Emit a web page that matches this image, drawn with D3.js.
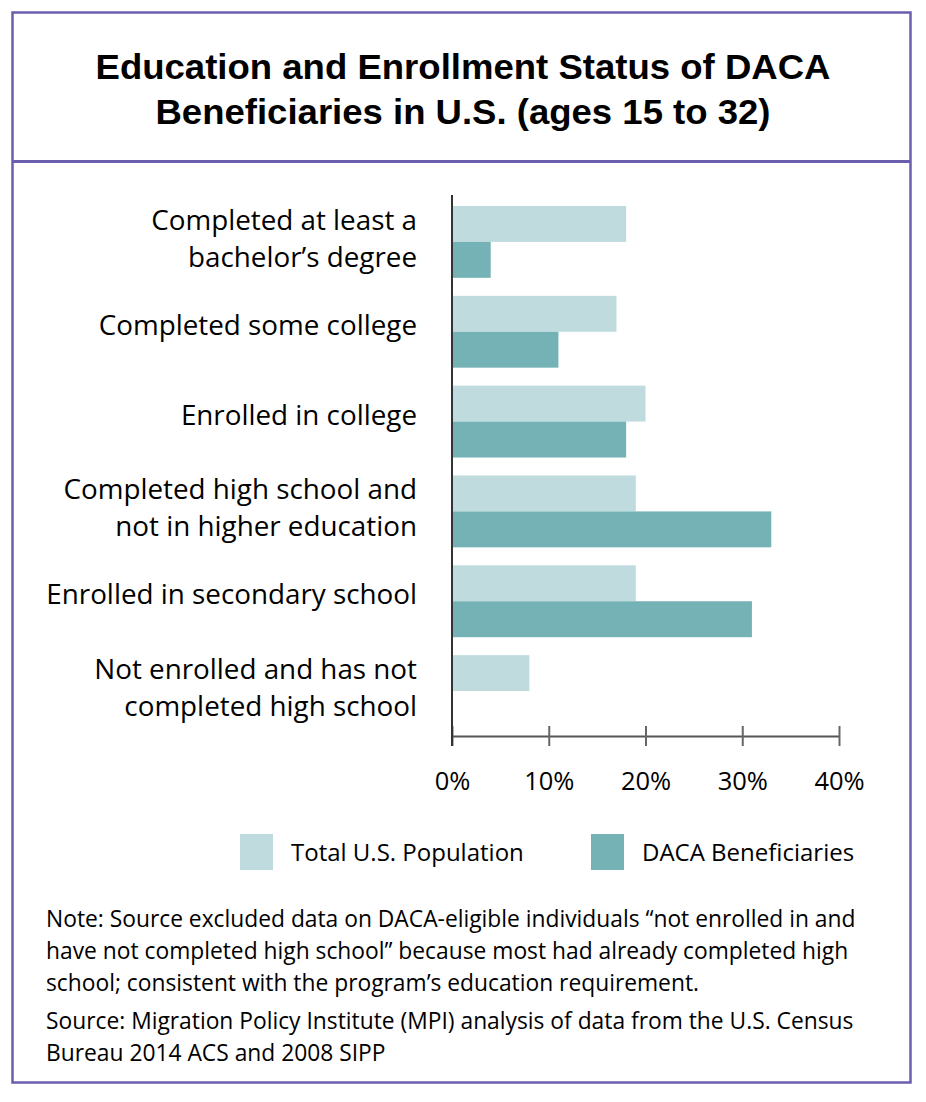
<!doctype html>
<html>
<head>
<meta charset="UTF-8">
<script src="https://cdn.jsdelivr.net/npm/d3@7"></script>
<style>
  body { margin: 0; background: #fff; }
  svg { display: block; }
</style>
</head>
<body>
<script>
// chart data
const categories = [
  "Completed at least a\nbachelor’s degree",
  "Completed some college",
  "Enrolled in college",
  "Completed high school and\nnot in higher education",
  "Enrolled in secondary school",
  "Not enrolled and has not\ncompleted high school"
];
const totalUS = [18, 17, 20, 19, 19, 8];
const dacaValues = [4, 11, 18, 33, 31, null];
const seriesNames = ["Total U.S. Population", "DACA Beneficiaries"];
const xTicks = [0, 10, 20, 30, 40];
const titleLines = [
  "Education and Enrollment Status of DACA",
  "Beneficiaries in U.S. (ages 15 to 32)"
];
const noteLines = [
  "Note: Source excluded data on DACA-eligible individuals “not enrolled in and",
  "have not completed high school” because most had already completed high",
  "school; consistent with the program’s education requirement."
];
const sourceLines = [
  "Source: Migration Policy Institute (MPI) analysis of data from the U.S. Census",
  "Bureau 2014 ACS and 2008 SIPP"
];

(function(){
  const W = 926, H = 1102;
  const purple = "#6a5fae";
  const colors = ["#c0dbde", "#75b2b5"];
  const bodyFont = "'Open Sans', Lato, sans-serif";

  const svg = d3.select("body").append("svg")
      .attr("width", W)
      .attr("height", H);

  // frame
  svg.append("rect")
     .attr("x", 12.5).attr("y", 12.5)
     .attr("width", 898).attr("height", 1070)
     .attr("fill", "#fff")
     .attr("stroke", purple)
     .attr("stroke-width", 2.5);
  svg.append("line")
     .attr("x1", 12).attr("x2", 911)
     .attr("y1", 161.5).attr("y2", 161.5)
     .attr("stroke", purple)
     .attr("stroke-width", 3);

  // title
  const titleWidths = [735, 615];
  svg.selectAll(".title")
     .data(titleLines)
     .enter().append("text")
       .attr("class", "title")
       .attr("x", W / 2)
       .attr("y", (d, i) => 79 + i * 45)
       .attr("text-anchor", "middle")
       .attr("font-family", "'Liberation Sans', Arial, sans-serif")
       .attr("font-weight", "bold")
       .attr("font-size", 35)
       .attr("textLength", (d, i) => titleWidths[i])
       .attr("lengthAdjust", "spacingAndGlyphs")
       .attr("fill", "#000")
       .text(d => d);

  // scales
  const x = d3.scaleLinear().domain([0, 40]).range([452, 839]);
  const y = d3.scaleBand()
              .domain(categories)
              .range([197, 736])
              .paddingInner(0.2)
              .paddingOuter(0.1);
  const sub = d3.scaleBand()
                .domain([0, 1])
                .range([0, y.bandwidth()]);

  const rows = categories.map((c, i) => ({cat: c, vals: [totalUS[i], dacaValues[i]]}));

  const groups = svg.selectAll(".group")
     .data(rows)
     .enter().append("g")
       .attr("class", "group")
       .attr("transform", d => "translate(0," + y(d.cat) + ")");

  groups.selectAll("rect")
     .data(d => d.vals.map((v, k) => ({v: v, k: k})).filter(e => e.v != null))
     .enter().append("rect")
       .attr("x", x(0))
       .attr("y", e => sub(e.k))
       .attr("width", e => x(e.v) - x(0))
       .attr("height", sub.bandwidth())
       .attr("fill", e => colors[e.k]);

  // category labels
  groups.each(function(d){
    const lines = d.cat.split("\n");
    const mid = y.bandwidth() / 2;
    const t = d3.select(this).append("text")
       .attr("text-anchor", "end")
       .attr("font-family", bodyFont)
       .attr("font-size", 27.8)
       .attr("fill", "#000");
    lines.forEach((ln, j) => {
      const base = lines.length === 1 ? mid + 3 : mid - 12 + j * 37;
      t.append("tspan")
        .attr("x", 417)
        .attr("y", base)
        .text(ln);
    });
  });

  // x axis
  const xAxis = d3.axisBottom(x)
                  .tickValues(xTicks)
                  .tickSizeInner(10)
                  .tickSizeOuter(0)
                  .tickFormat(d => d + "%");
  const gx = svg.append("g")
     .attr("transform", "translate(0,736)")
     .call(xAxis);
  gx.select(".domain").attr("stroke", "#555").attr("stroke-width", 2);
  gx.selectAll(".tick line")
     .attr("y1", -10)
     .attr("stroke", "#666")
     .attr("stroke-width", 2);
  gx.selectAll(".tick text")
     .attr("y", 54)
     .attr("dy", 0)
     .attr("font-family", bodyFont)
     .attr("font-size", 25.5)
     .attr("fill", "#000");

  // y axis line
  svg.append("line")
     .attr("x1", x(0)).attr("x2", x(0))
     .attr("y1", 195).attr("y2", 746)
     .attr("stroke", "#333")
     .attr("stroke-width", 2);

  // legend
  const legendX = [240, 591];
  const legend = svg.selectAll(".legend")
     .data(seriesNames)
     .enter().append("g")
       .attr("class", "legend")
       .attr("transform", (d, i) => "translate(" + legendX[i] + ",834)");
  legend.append("rect")
     .attr("width", 33).attr("height", 36)
     .attr("fill", (d, i) => colors[i]);
  legend.append("text")
     .attr("x", 51).attr("y", 27)
     .attr("font-family", bodyFont)
     .attr("font-size", 24)
     .attr("fill", "#000")
     .text(d => d);

  // note and source
  svg.selectAll(".note")
     .data(noteLines)
     .enter().append("text")
       .attr("class", "note")
       .attr("x", 46)
       .attr("y", (d, i) => 927 + i * 32)
       .attr("font-family", bodyFont)
       .attr("font-size", 22.8)
       .attr("fill", "#000")
       .text(d => d);
  svg.selectAll(".source")
     .data(sourceLines)
     .enter().append("text")
       .attr("class", "source")
       .attr("x", 46)
       .attr("y", (d, i) => 1029 + i * 32)
       .attr("font-family", bodyFont)
       .attr("font-size", 22.8)
       .attr("fill", "#000")
       .text(d => d);
})();
</script>
</body>
</html>
